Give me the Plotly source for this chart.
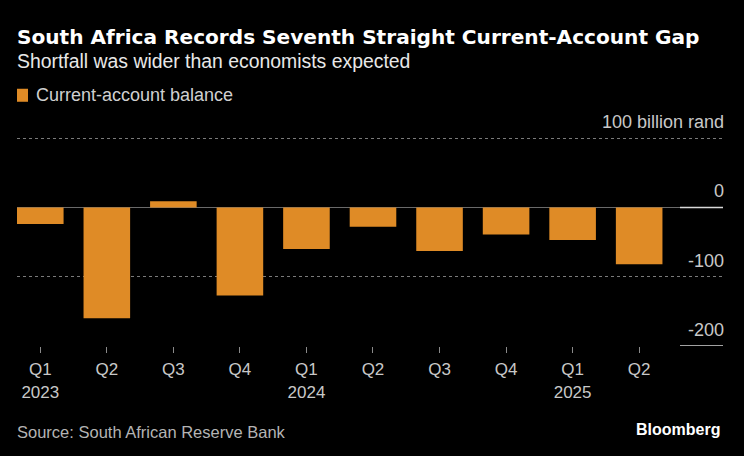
import plotly.graph_objects as go

quarters = ["Q1", "Q2", "Q3", "Q4", "Q1", "Q2", "Q3", "Q4", "Q1", "Q2"]
years = ["2023", "", "", "", "2024", "", "", "", "2025", ""]
categories = [f"{q} {y}" if y else f"{q}_{i}" for i, (q, y) in enumerate(zip(quarters, years))]
balance = [-24, -160, 9, -127, -60, -28, -63, -39, -47, -82]
tick_labels = [f"{q}<br>{y}" if y else q for q, y in zip(quarters, years)]
y_ticks = [100, 0, -100, -200]
y_tick_text = ["100 billion rand", "0", "-100", "-200"]
series_name = "Current-account balance"

W, H = 744, 456
L, R, T, B = 17, 21, 136.2, 110
PW, PH = W - L - R, H - T - B

def px(x):
    return (x - L) / PW

def py(y):
    return (H - B - y) / PH

ORANGE = "#DF8B26"
BODY = "Liberation Sans, Arial, sans-serif"

fig = go.Figure()
fig.add_trace(go.Bar(
    x=categories, y=balance, marker=dict(color=ORANGE, line=dict(width=0)),
    name=series_name, showlegend=False,
))

annotations = [
    dict(text="<b>South Africa Records Seventh Straight Current-Account Gap</b>",
         x=px(15), y=py(37), xref="paper", yref="paper", xanchor="left", yanchor="middle",
         showarrow=False, font=dict(family="DejaVu Sans, sans-serif", size=20.1, color="#FFFFFF")),
    dict(text="Shortfall was wider than economists expected",
         x=px(15), y=py(61), xref="paper", yref="paper", xanchor="left", yanchor="middle",
         showarrow=False, font=dict(family=BODY, size=19.4, color="#E8E8E8")),
    dict(text=series_name,
         x=px(34), y=py(95), xref="paper", yref="paper", xanchor="left", yanchor="middle",
         showarrow=False, font=dict(family=BODY, size=18, color="#D0D0D0")),
    dict(text="Source: South African Reserve Bank",
         x=px(15), y=py(432), xref="paper", yref="paper", xanchor="left", yanchor="middle",
         showarrow=False, font=dict(family=BODY, size=16.5, color="#B4B4B4")),
    dict(text="<b>Bloomberg</b>",
         x=px(722), y=py(429), xref="paper", yref="paper", xanchor="right", yanchor="middle",
         showarrow=False, font=dict(family=BODY, size=16, color="#FFFFFF")),
]
for v, t in zip(y_ticks, y_tick_text):
    annotations.append(dict(text=t, x=1, y=v, xref="paper", yref="y", xanchor="right",
                            yanchor="bottom", yshift=4, xshift=3, showarrow=False,
                            font=dict(family=BODY, size=18, color="#C8C8C8")))

shapes = [
    dict(type="rect", xref="paper", yref="paper", x0=px(17), x1=px(28), y0=py(102), y1=py(89),
         fillcolor=ORANGE, line=dict(width=0)),
]
for v in [0, -200]:
    shapes.append(dict(type="line", xref="paper", yref="y", x0=px(680), x1=1, y0=v, y1=v,
                       line=dict(color="#D8D8D8", width=1.5)))

fig.update_layout(
    width=W, height=H,
    margin=dict(l=L, r=R, t=T, b=B, pad=0),
    paper_bgcolor="#000000", plot_bgcolor="#000000",
    bargap=0.3,
    showlegend=False,
    annotations=annotations,
    shapes=shapes,
    xaxis=dict(
        type="category", categoryorder="array", categoryarray=categories,
        range=[-0.35, 10.26], tickvals=categories, ticktext=tick_labels,
        ticks="outside", ticklen=6, tickcolor="#8A8A8A", tickwidth=1,
        ticklabelstandoff=2,
        showgrid=False, showline=False, zeroline=False,
        tickfont=dict(family=BODY, size=17, color="#C8C8C8"),
    ),
    yaxis=dict(
        range=[-200, 103], tickvals=[100, -100], showticklabels=False,
        showgrid=True, gridcolor="#7A7A7A", gridwidth=1, griddash="dot",
        zeroline=True, zerolinecolor="#6A6A6A", zerolinewidth=1,
        showline=False, ticks="",
    ),
)

fig.write_html("out.html")
